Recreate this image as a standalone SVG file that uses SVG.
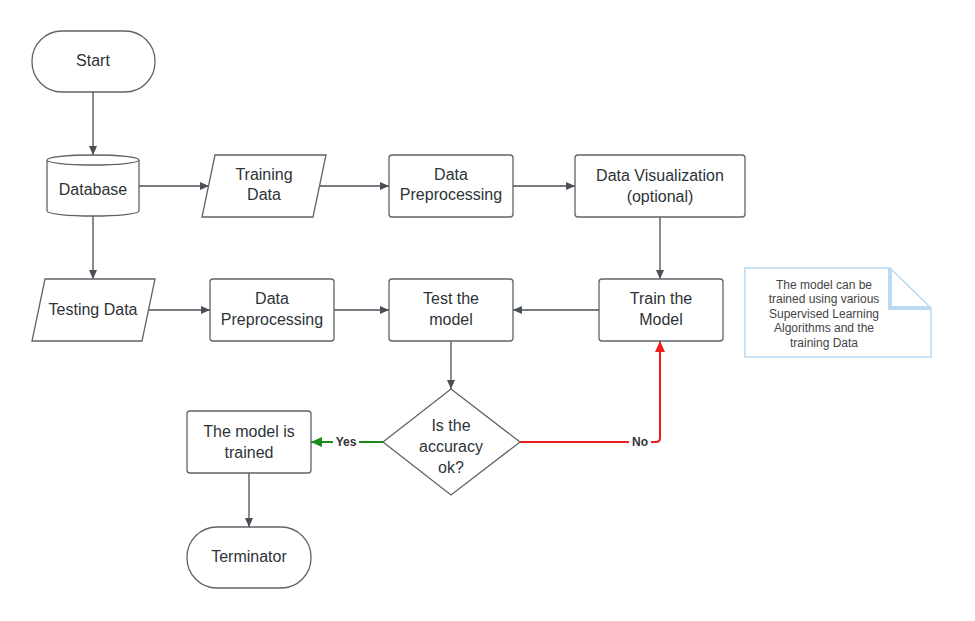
<svg xmlns="http://www.w3.org/2000/svg" width="975" height="621" viewBox="0 0 975 621">
<style>
.s{fill:#fff;stroke:#5f6368;stroke-width:1.3}
.t{font-family:"Liberation Sans",Arial,sans-serif;font-size:16px;fill:#2d3338;text-anchor:middle}
.c{stroke:#4a4f55;stroke-width:1.3;fill:none}
.l{font-family:"Liberation Sans",Arial,sans-serif;font-size:12px;font-weight:bold;fill:#333;text-anchor:middle}
</style>
<defs>
<marker id="a" markerWidth="10" markerHeight="10" refX="9" refY="5" orient="auto" markerUnits="userSpaceOnUse"><path d="M0,1 L9,5 L0,9 Z" fill="#4a4f55"/></marker>
<marker id="g" markerWidth="12" markerHeight="12" refX="11" refY="6" orient="auto" markerUnits="userSpaceOnUse"><path d="M0,1 L11,6 L0,11 Z" fill="#1a8a1a"/></marker>
<marker id="r" markerWidth="12" markerHeight="12" refX="11" refY="6" orient="auto" markerUnits="userSpaceOnUse"><path d="M0,1 L11,6 L0,11 Z" fill="#ee1c1c"/></marker>
</defs>
<rect width="975" height="621" fill="#fff"/>
<g id="connectors">
<path class="c" d="M93,92V155" marker-end="url(#a)"/>
<path class="c" d="M139,186H209" marker-end="url(#a)"/>
<path class="c" d="M320,186H389" marker-end="url(#a)"/>
<path class="c" d="M513,186H575" marker-end="url(#a)"/>
<path class="c" d="M660,217V279" marker-end="url(#a)"/>
<path class="c" d="M93,216V279" marker-end="url(#a)"/>
<path class="c" d="M148,310H210" marker-end="url(#a)"/>
<path class="c" d="M334,310H389" marker-end="url(#a)"/>
<path class="c" d="M599,310H513" marker-end="url(#a)"/>
<path class="c" d="M451,341V389" marker-end="url(#a)"/>
<path d="M383,442H311" stroke="#1a8a1a" stroke-width="2" fill="none" marker-end="url(#g)"/>
<rect x="333" y="434" width="26" height="15" fill="#fff"/>
<text class="l" x="346" y="446">Yes</text>
<path d="M520,442H656Q660,442 660,438V341" stroke="#ee1c1c" stroke-width="2" fill="none" marker-end="url(#r)"/>
<rect x="629" y="434" width="22" height="15" fill="#fff"/>
<text class="l" x="640" y="446">No</text>
<path class="c" d="M249,473V527" marker-end="url(#a)"/>
</g>
<g id="start"><rect class="s" x="32" y="31" width="123" height="61" rx="30"/><text class="t" x="93" y="66">Start</text></g>
<g id="database"><path class="s" d="M47,160V211A46,5 0 0 0 139,211V160A46,5 0 0 0 47,160A46,5 0 0 0 139,160"/><text class="t" x="93" y="195">Database</text></g>
<g id="training"><path class="s" d="M215,155H326L313,217H202Z"/><text class="t" x="264" y="180">Training</text><text class="t" x="264" y="200">Data</text></g>
<g id="dp1"><rect class="s" x="389" y="155" width="124" height="62" rx="3"/><text class="t" x="451" y="180">Data</text><text class="t" x="451" y="200">Preprocessing</text></g>
<g id="dv"><rect class="s" x="575" y="155" width="170" height="62" rx="3"/><text class="t" x="660" y="181">Data Visualization</text><text class="t" x="660" y="202">(optional)</text></g>
<g id="testing"><path class="s" d="M45,279H155L142,341H32Z"/><text class="t" x="93" y="315">Testing Data</text></g>
<g id="dp2"><rect class="s" x="210" y="279" width="124" height="62" rx="3"/><text class="t" x="272" y="304">Data</text><text class="t" x="272" y="325">Preprocessing</text></g>
<g id="test"><rect class="s" x="389" y="279" width="124" height="62" rx="3"/><text class="t" x="451" y="304">Test the</text><text class="t" x="451" y="325">model</text></g>
<g id="train"><rect class="s" x="599" y="279" width="124" height="62" rx="3"/><text class="t" x="661" y="304">Train the</text><text class="t" x="661" y="325">Model</text></g>
<g id="note"><path d="M745,268H890L931,308V357H745Z" fill="#fff" stroke="#b9daf0" stroke-width="1.5"/><path d="M890,268V308H931" fill="none" stroke="#b9daf0" stroke-width="4"/><g style="font-family:'Liberation Sans',Arial,sans-serif;font-size:12px;fill:#444;text-anchor:middle"><text x="824" y="289">The model can be</text><text x="824" y="303">trained using various</text><text x="824" y="318">Supervised Learning</text><text x="824" y="332">Algorithms and the</text><text x="824" y="347">training Data</text></g></g>
<g id="decision"><path class="s" d="M451,389L520,442L451,495L383,442Z"/><text class="t" x="451" y="431">Is the</text><text class="t" x="451" y="452">accuracy</text><text class="t" x="451" y="473">ok?</text></g>
<g id="trained"><rect class="s" x="187" y="411" width="124" height="62" rx="3"/><text class="t" x="249" y="437">The model is</text><text class="t" x="249" y="458">trained</text></g>
<g id="terminator"><rect class="s" x="187" y="527" width="124" height="61" rx="30"/><text class="t" x="249" y="562">Terminator</text></g>
</svg>
